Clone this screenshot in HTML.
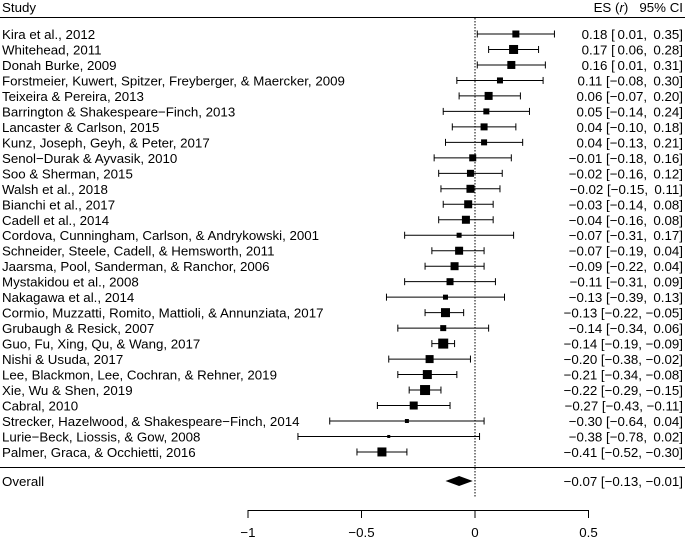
<!DOCTYPE html>
<html><head><meta charset="utf-8"><style>
body{margin:0;background:#fff;}
svg{display:block;font-family:"Liberation Sans",Arial,sans-serif;}
</style></head><body>
<svg id="plot" width="685" height="540" xmlns="http://www.w3.org/2000/svg"></svg>
<script>
const studies=["Kira et al., 2012","Whitehead, 2011","Donah Burke, 2009","Forstmeier, Kuwert, Spitzer, Freyberger, & Maercker, 2009","Teixeira & Pereira, 2013","Barrington & Shakespeare\u2212Finch, 2013","Lancaster & Carlson, 2015","Kunz, Joseph, Geyh, & Peter, 2017","Senol\u2212Durak & Ayvasik, 2010","Soo & Sherman, 2015","Walsh et al., 2018","Bianchi et al., 2017","Cadell et al., 2014","Cordova, Cunningham, Carlson, & Andrykowski, 2001","Schneider, Steele, Cadell, & Hemsworth, 2011","Jaarsma, Pool, Sanderman, & Ranchor, 2006","Mystakidou et al., 2008","Nakagawa et al., 2014","Cormio, Muzzatti, Romito, Mattioli, & Annunziata, 2017","Grubaugh & Resick, 2007","Guo, Fu, Xing, Qu, & Wang, 2017","Nishi & Usuda, 2017","Lee, Blackmon, Lee, Cochran, & Rehner, 2019","Xie, Wu & Shen, 2019","Cabral, 2010","Strecker, Hazelwood, & Shakespeare\u2212Finch, 2014","Lurie\u2212Beck, Liossis, & Gow, 2008","Palmer, Graca, & Occhietti, 2016"];
const es=[0.18,0.17,0.16,0.11,0.06,0.05,0.04,0.04,-0.01,-0.02,-0.02,-0.03,-0.04,-0.07,-0.07,-0.09,-0.11,-0.13,-0.13,-0.14,-0.14,-0.20,-0.21,-0.22,-0.27,-0.30,-0.38,-0.41];
const lo=[0.01,0.06,0.01,-0.08,-0.07,-0.14,-0.10,-0.13,-0.18,-0.16,-0.15,-0.14,-0.16,-0.31,-0.19,-0.22,-0.31,-0.39,-0.22,-0.34,-0.19,-0.38,-0.34,-0.29,-0.43,-0.64,-0.78,-0.52];
const hi=[0.35,0.28,0.31,0.30,0.20,0.24,0.18,0.21,0.16,0.12,0.11,0.08,0.08,0.17,0.04,0.04,0.09,0.13,-0.05,0.06,-0.09,-0.02,-0.08,-0.15,-0.11,0.04,0.02,-0.30];
const weights=[7,9,8,6,8,6,7,6,7,7,8,8,8,5,8,8,7,5,9,6,10,8,9,10,8,4,3,9];
const overall=[-0.07,-0.13,-0.01];
const ticks=[-1,-0.5,0,0.5];
const tickLabels=["\u22121","\u22120.5","0","0.5"];

const NS="http://www.w3.org/2000/svg";
const svg=document.getElementById('plot');
const FS=13.3;
const X=v=>475+v*227;
const Y=i=>34+i*15.48;
function el(t,a,p){const e=document.createElementNS(NS,t);for(const k in a)e.setAttribute(k,a[k]);(p||svg).appendChild(e);return e;}
const f=v=>(v<0?"\u2212":"")+Math.abs(v).toFixed(2);
const fb=v=>(v<0?"\u2212":"\u2009")+Math.abs(v).toFixed(2);
const lab=(e,l,c)=>`${f(e)} [${fb(l)}, ${fb(c)}]`;

let t=el('text',{x:2,y:12,'font-size':FS});t.textContent="Study";


t=el('text',{x:683,y:12,'font-size':FS,'text-anchor':'end'});t.innerHTML='ES (<tspan font-style="italic">r</tspan>)&#160;&#160;&#160;95% CI';


let l=el('line',{x1:0,x2:685,y1:17.5,y2:17.5,stroke:'#000','stroke-width':1});


l=el('line',{x1:0,x2:685,y1:467.5,y2:467.5,stroke:'#000','stroke-width':1});


l=el('line',{x1:X(0),x2:X(0),y1:18,y2:498,stroke:'#000','stroke-width':1,'stroke-dasharray':'1.5,1.5'});



studies.forEach((s,i)=>{
  const y=Y(i);
  const g=el('g',{});
  
  
  let n=el('text',{x:2,y:y+5,'font-size':FS},g);n.textContent=s;
  el('line',{x1:X(lo[i]),x2:X(hi[i]),y1:y,y2:y,stroke:'#000','stroke-width':1},g);
  el('line',{x1:X(lo[i]),x2:X(lo[i]),y1:y-3.5,y2:y+3.5,stroke:'#000'},g);
  el('line',{x1:X(hi[i]),x2:X(hi[i]),y1:y-3.5,y2:y+3.5,stroke:'#000'},g);
  const w=weights[i];
  const b=el('rect',{x:X(es[i])-w/2,y:y-w/2,width:w,height:w,fill:'#000'},g);
  
  
  n=el('text',{x:683,y:y+5,'font-size':FS,'text-anchor':'end'},g);n.textContent=lab(es[i],lo[i],hi[i]);
});

t=el('text',{x:2,y:486,'font-size':FS});t.textContent="Overall";


const oy=481;
const d=el('polygon',{points:`${X(overall[1])},${oy} ${X(overall[0])},${oy-5} ${X(overall[2])},${oy} ${X(overall[0])},${oy+5}`,fill:'#000'});


t=el('text',{x:683,y:486,'font-size':FS,'text-anchor':'end'});t.textContent=lab(overall[0],overall[1],overall[2]);



const ax=el('g',{});


el('line',{x1:X(ticks[0]),x2:X(ticks[ticks.length-1]),y1:510.5,y2:510.5,stroke:'#000'},ax);
ticks.forEach((v,i)=>{
  el('line',{x1:X(v),x2:X(v),y1:510,y2:518,stroke:'#000'},ax);
  const tt=el('text',{x:X(v),y:537,'font-size':FS,'text-anchor':'middle'},ax);tt.textContent=tickLabels[i];
  
  
});
</script>
</body></html>
